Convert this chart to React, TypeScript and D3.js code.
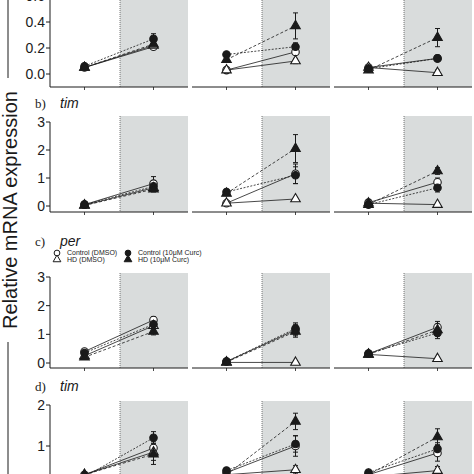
import React from "react";
import * as d3 from "d3";

// --- data ---
const seriesNames = ["Control (DMSO)", "HD (DMSO)", "Control (10\u03bcM Curc)", "HD (10\u03bcM Curc)"];
const timePoints = ["pre", "post"];
// row a's label sits above the visible crop, so only b-d are drawn
const rowLabels = [null, "b)", "c)", "d)"];
const geneLabels = [null, "tim", "per", "tim"];
const rowTicks = [
  [0, 0.2, 0.4, 0.6],
  [0, 1, 2, 3],
  [0, 1, 2, 3],
  [0, 1, 2],
];

// means: [row][col][series] -> [pre, post]
const rowA = [
  [[0.05, 0.21], [0.05, 0.22], [0.06, 0.27], [0.05, 0.23]],
  [[0.03, 0.17], [0.03, 0.1], [0.15, 0.21], [0.11, 0.37]],
  [[0.05, 0.12], [0.05, 0.01], [0.04, 0.12], [0.03, 0.28]],
];
const rowB = [
  [[0.05, 0.8], [0.03, 0.65], [0.05, 0.7], [0.02, 0.6]],
  [[0.1, 1.15], [0.1, 0.25], [0.5, 1.1], [0.45, 2.05]],
  [[0.12, 0.85], [0.1, 0.05], [0.05, 0.65], [0.05, 1.25]],
];
const rowC = [
  [[0.4, 1.5], [0.25, 1.3], [0.35, 1.35], [0.2, 1.1]],
  [[0.05, 1.15], [0.02, 0.02], [0.05, 1.2], [0.03, 1.1]],
  [[0.32, 1.25], [0.3, 0.15], [0.33, 1.05], [0.3, 1.15]],
];
const rowD = [
  [[0.3, 0.95], [0.3, 0.85], [0.25, 1.2], [0.3, 0.8]],
  [[0.35, 1.0], [0.3, 0.42], [0.4, 1.05], [0.3, 1.6]],
  [[0.3, 0.83], [0.25, 0.4], [0.35, 0.93], [0.3, 1.22]],
];
// error (SEM) on post-point: [row][col][series]
const errA = [[0.02, 0.02, 0.04, 0.02], [0.02, 0.02, 0.03, 0.1], [0.02, 0.02, 0.02, 0.07]];
const errB = [[0.25, 0.1, 0.1, 0.1], [0.35, 0.05, 0.3, 0.5], [0.15, 0.05, 0.15, 0.12]];
const errC = [[0.12, 0.1, 0.12, 0.12], [0.2, 0.05, 0.2, 0.2], [0.2, 0.05, 0.2, 0.2]];
const errD = [[0.15, 0.2, 0.15, 0.25], [0.25, 0.1, 0.2, 0.2], [0.2, 0.1, 0.15, 0.2]];

const allRows = [rowA, rowB, rowC, rowD];
const allErrs = [errA, errB, errC, errD];

// --- layout ---
const W = 474;
const H = 474;
const colStarts = [50, 192, 334];
const colWidth = 138;
const rowLayout = [
  { domain: [0, 0.6], range: [74, -4], base: 87, shadeTop: -10, labelY: -14, fmt: ".1f" },
  { domain: [0, 3], range: [206, 122], base: 212, shadeTop: 116, labelY: 108, fmt: "d" },
  { domain: [0, 3], range: [363, 277], base: 368, shadeTop: 273, labelY: 246, fmt: "d" },
  { domain: [0, 2], range: [487, 405], base: 492, shadeTop: 401, labelY: 391, fmt: "d" },
];
const ink = "#1a1a1a";
const shade = "#d9dcdc";
const dashes = [null, null, "2,1.5", "3,2"];

const sym = (i: number, size = 44) =>
  d3.symbol(i % 2 === 0 ? d3.symbolCircle : d3.symbolTriangle, i % 2 === 0 ? size : size * 0.9)()!;

const Marker = ({ i, x, y }: { i: number; x: number; y: number }) => (
  <path
    d={sym(i)}
    transform={`translate(${x},${y})`}
    fill={i >= 2 ? ink : "#fff"}
    stroke={ink}
    strokeWidth={1.1}
  />
);

const Panel = ({ r, c }: { r: number; c: number }) => {
  const L = rowLayout[r];
  const x0 = colStarts[c];
  const x = d3.scalePoint<string>().domain(timePoints).range([x0, x0 + colWidth]).padding(0.5);
  const y = d3.scaleLinear().domain(L.domain).range(L.range);
  const shadeX = x0 + colWidth / 2 + 1;
  const data = allRows[r][c];
  const errs = allErrs[r][c];
  const line = d3
    .line<number>()
    .x((_, k) => x(timePoints[k])!)
    .y((d) => y(d));
  const fmt = d3.format(L.fmt);
  return (
    <g>
      <rect x={shadeX} y={L.shadeTop} width={x0 + colWidth - shadeX} height={L.base - L.shadeTop} fill={shade} />
      <line x1={shadeX} x2={shadeX} y1={L.shadeTop} y2={L.base} stroke="#555" strokeWidth={0.8} strokeDasharray="1,1" />
      <line x1={x0} x2={x0 + colWidth} y1={L.base} y2={L.base} stroke={ink} strokeWidth={1} />
      {timePoints.map((t) => (
        <line key={t} x1={x(t)} x2={x(t)} y1={L.base} y2={L.base + 3} stroke={ink} strokeWidth={0.8} />
      ))}
      {c === 0 && (
        <g>
          <line x1={x0} x2={x0} y1={y(L.domain[1])} y2={L.base} stroke={ink} strokeWidth={1} />
          {rowTicks[r].map((t) => (
            <g key={t}>
              <line x1={x0 - 4} x2={x0} y1={y(t)} y2={y(t)} stroke={ink} strokeWidth={1} />
              <text x={x0 - 5} y={y(t)} dy="0.35em" textAnchor="end" fontSize={14} fill={ink}>
                {fmt(t)}
              </text>
            </g>
          ))}
        </g>
      )}
      {data.map((d, i) => (
        <path
          key={"l" + i}
          d={line(d)!}
          fill="none"
          stroke={ink}
          strokeWidth={0.8}
          strokeDasharray={dashes[i] ?? undefined}
        />
      ))}
      {data.map((d, i) => {
        const px = x("post")!;
        const e = errs[i];
        return (
          <g key={"e" + i}>
            <line x1={px} x2={px} y1={y(d[1] + e)} y2={y(d[1] - e)} stroke={ink} strokeWidth={1} />
            <line x1={px - 2.5} x2={px + 2.5} y1={y(d[1] + e)} y2={y(d[1] + e)} stroke={ink} strokeWidth={1} />
            <line x1={px - 2.5} x2={px + 2.5} y1={y(d[1] - e)} y2={y(d[1] - e)} stroke={ink} strokeWidth={1} />
          </g>
        );
      })}
      {data.map((d, i) =>
        d.map((v, k) => <Marker key={`m${i}-${k}`} i={i} x={x(timePoints[k])!} y={y(v)} />)
      )}
    </g>
  );
};

const Legend = () => {
  const items = [
    { i: 0, x: 57, y: 253 },
    { i: 2, x: 128, y: 253 },
    { i: 1, x: 57, y: 259.5 },
    { i: 3, x: 128, y: 259.5 },
  ];
  return (
    <g fontSize={7} fill={ink}>
      {items.map((it) => (
        <g key={it.i}>
          <path
            d={d3.symbol(it.i % 2 === 0 ? d3.symbolCircle : d3.symbolTriangle, 26)()!}
            transform={`translate(${it.x},${it.y})`}
            fill={it.i >= 2 ? ink : "#fff"}
            stroke={ink}
            strokeWidth={1}
          />
          <text x={it.x + 10} y={it.y} dy="0.35em">
            {seriesNames[it.i]}
          </text>
        </g>
      ))}
    </g>
  );
};

export default function App() {
  return (
    <svg width={W} height={H} style={{ position: "absolute", left: 0, top: 0, background: "#fff" }} fontFamily="'Liberation Sans', Arial, sans-serif">
      <rect width={W} height={H} fill="#fff" />
      {/* y label with brackets */}
      <line x1={8} x2={8} y1={0} y2={78} stroke={ink} strokeWidth={1} />
      <line x1={8} x2={8} y1={342} y2={H} stroke={ink} strokeWidth={1} />
      <text transform="translate(17,210) rotate(-90)" textAnchor="middle" fontSize={20} fill={ink}>
        Relative mRNA expression
      </text>
      {rowLabels.map((lab, r) =>
        lab ? (
          <g key={lab + r}>
            <text x={35} y={rowLayout[r].labelY} fontFamily="'Liberation Serif', 'Times New Roman', serif" fontSize={13} fill={ink}>
              {lab}
            </text>
            <text x={60} y={rowLayout[r].labelY} fontStyle="italic" fontSize={14} fill={ink}>
              {geneLabels[r]}
            </text>
          </g>
        ) : null
      )}
      <Legend />
      {rowLayout.map((_, r) => colStarts.map((_, c) => <Panel key={`${r}-${c}`} r={r} c={c} />))}
    </svg>
  );
}
